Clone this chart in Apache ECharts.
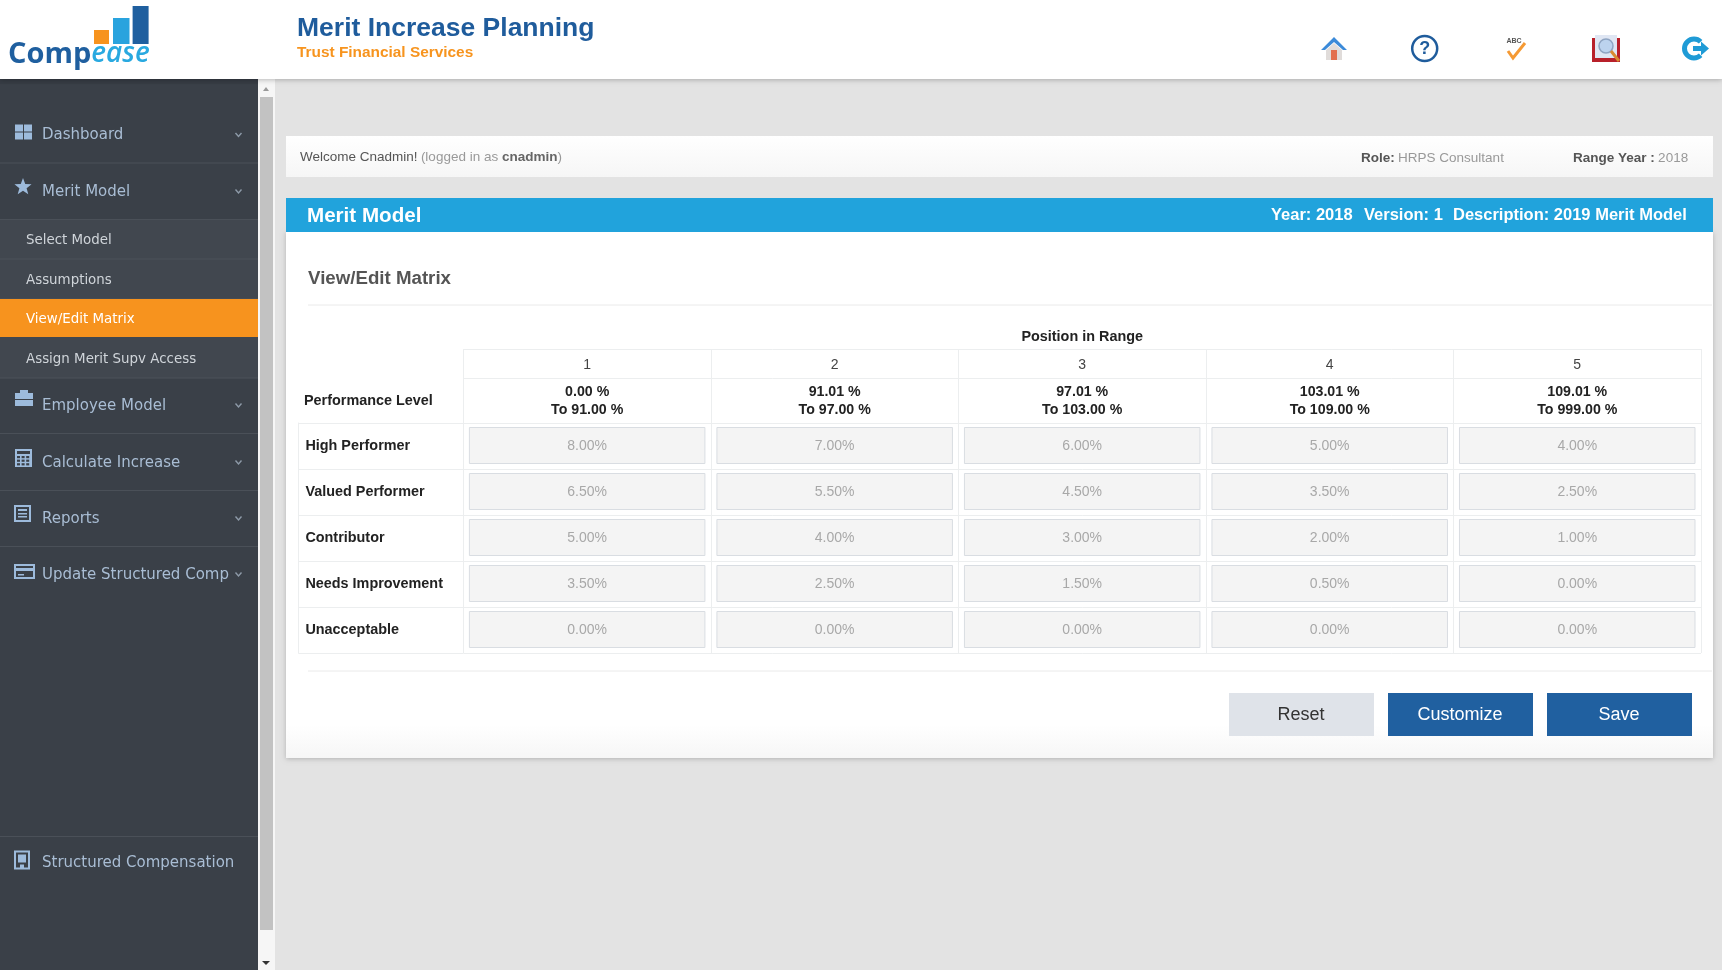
<!DOCTYPE html>
<html>
<head>
<meta charset="utf-8">
<style>html,body{margin:0;padding:0;background:#e3e3e3}#main{width:1722px;height:970px}</style>
<script src="https://cdn.jsdelivr.net/npm/echarts@6/dist/echarts.min.js"></script>
</head>
<body>
<div id="main"></div>
<script>
// table data
const positionLabels = ['1', '2', '3', '4', '5'];
const rangeLabels = ['0.00 %\nTo 91.00 %', '91.01 %\nTo 97.00 %', '97.01 %\nTo 103.00 %', '103.01 %\nTo 109.00 %', '109.01 %\nTo 999.00 %'];
const performanceLevels = ['High Performer', 'Valued Performer', 'Contributor', 'Needs Improvement', 'Unacceptable'];
const highPerformer = [8.0, 7.0, 6.0, 5.0, 4.0];
const valuedPerformer = [6.5, 5.5, 4.5, 3.5, 2.5];
const contributor = [5.0, 4.0, 3.0, 2.0, 1.0];
const needsImprovement = [3.5, 2.5, 1.5, 0.5, 0.0];
const unacceptable = [0.0, 0.0, 0.0, 0.0, 0.0];

// side menu
const menuTop = ['Dashboard', 'Merit Model'];
const menuSub = ['Select Model', 'Assumptions', 'View/Edit Matrix', 'Assign Merit Supv Access'];
const menuBottom = ['Employee Model', 'Calculate Increase', 'Reports', 'Update Structured Comp'];

const ARIAL = '"Liberation Sans", Arial, sans-serif';
const VERDANA = '"DejaVu Sans", Verdana, sans-serif';
const BORDER = '#eceeef';
const MENU_TEXT = '#a9bdd4';
const ICON = '#9dbbdc';

const matrix = [highPerformer, valuedPerformer, contributor, needsImprovement, unacceptable];
const cellData = [];
matrix.forEach(function (row, r) {
  row.forEach(function (v, c) {
    cellData.push([c, r, v]);
  });
});

// helpers for the page chrome
function box(x, y, w, h, fill, extra) {
  return Object.assign({ type: 'rect', shape: { x: x, y: y, width: w, height: h }, style: Object.assign({ fill: fill }, extra) });
}
function label(x, y, text, font, fill, align) {
  return { type: 'text', z: 1, style: { x: x, y: y, text: text, font: font, fill: fill, align: align || 'left', verticalAlign: 'middle' } };
}
function hline(x1, x2, y, color) {
  return { type: 'line', shape: { x1: x1, y1: y, x2: x2, y2: y }, style: { stroke: color, lineWidth: 1 } };
}
function poly(points, fill) {
  return { type: 'polygon', shape: { points: points }, style: { fill: fill } };
}
function path(points, stroke, width) {
  return { type: 'polyline', shape: { points: points }, style: { stroke: stroke, lineWidth: width, fill: 'none' } };
}
function vgrad(from, to) {
  return new echarts.graphic.LinearGradient(0, 0, 0, 1, [{ offset: 0, color: from }, { offset: 1, color: to }]);
}

function starPoints(cx, cy, r) {
  const pts = [];
  for (let i = 0; i < 10; i++) {
    const a = -Math.PI / 2 + i * Math.PI / 5;
    const d = i % 2 ? r * 0.42 : r;
    pts.push([cx + Math.cos(a) * d, cy + Math.sin(a) * d]);
  }
  return pts;
}

// sidebar icons
const icons = {
  Dashboard: function (y) {
    return [box(15, y - 9, 8, 7, ICON), box(24, y - 9, 8, 7, ICON), box(15, y - 1, 8, 7, ICON), box(24, y - 1, 8, 7, ICON)];
  },
  'Merit Model': function (y) {
    return [poly(starPoints(23, y - 3, 9), ICON)];
  },
  'Employee Model': function (y) {
    return [box(15, y - 11, 18, 13, ICON), box(20, y - 14, 8, 3, ICON), box(15, y - 5, 18, 1, '#3a4048')];
  },
  'Calculate Increase': function (y) {
    const parts = [box(15, y - 12, 17, 18, ICON), box(17, y - 10, 13, 3, '#3a4048')];
    for (let i = 0; i < 3; i++) {
      for (let j = 0; j < 3; j++) {
        parts.push(box(17 + i * 4.6, y - 5 + j * 3.6, 3, 2.2, '#3a4048'));
      }
    }
    return parts;
  },
  Reports: function (y) {
    return [
      box(15, y - 11, 15, 15, 'none', { stroke: ICON, lineWidth: 2 }),
      box(18, y - 8, 9, 2, ICON), box(18, y - 4, 9, 1.5, ICON), box(18, y - 1, 9, 1.5, ICON)
    ];
  },
  'Update Structured Comp': function (y) {
    return [
      box(15, y - 8, 19, 13, 'none', { stroke: ICON, lineWidth: 2 }),
      box(15, y - 5, 19, 3, ICON), box(18, y + 1, 6, 1.5, ICON)
    ];
  },
  'Structured Compensation': function (y) {
    return [
      box(15, y - 10, 14, 17, 'none', { stroke: ICON, lineWidth: 2 }),
      box(18, y - 7, 8, 8, ICON), box(20, y + 3, 4, 4, ICON)
    ];
  }
};

function chevron(y) {
  return path([[235.5, y - 1.5], [238.5, y + 2], [241.5, y - 1.5]], '#8d9aa8', 1.4);
}

function menuRow(name, y, divider) {
  const parts = (icons[name] ? icons[name](y) : []).concat([label(42, y + 2, name, '15px ' + VERDANA, MENU_TEXT)]);
  if (divider) parts.push(hline(0, 258, y + 29.5, '#4a5058'));
  return parts;
}

function buildSidebar() {
  let parts = [box(0, 79, 258, 891, '#3a4048'), box(0, 79, 258, 5, '#363c44')];
  [133.5, 190].forEach(function (y, i) {
    parts = parts.concat(menuRow(menuTop[i], y, true), [chevron(y + 1)]);
  });
  parts.push(box(0, 220, 258, 158, '#41474f'));
  [239, 279, 318, 358].forEach(function (y, i) {
    const active = i === 2;
    if (active) parts.push(box(0, 299, 258, 38, '#f7931e'));
    else parts.push(hline(0, 258, y + 20, '#4c525a'));
    parts.push(label(26, y + 1.5, menuSub[i], '13.4px ' + VERDANA, active ? '#ffffff' : '#d0d5da'));
  });
  [404, 461, 517, 573].forEach(function (y, i) {
    parts = parts.concat(menuRow(menuBottom[i], y, i < 3), [chevron(y + 1)]);
  });
  parts.push(hline(0, 258, 836.5, '#4a5058'));
  parts = parts.concat(menuRow('Structured Compensation', 861.5, false));
  // scrollbar
  parts.push(box(258, 79, 17, 891, '#f6f6f6'));
  parts.push(box(260, 97, 13, 833, '#c2c2c2'));
  parts.push(poly([[263, 91], [266, 87], [269, 91]], '#9a9a9a'));
  parts.push(poly([[262, 961], [266, 965], [270, 961]], '#333333'));
  return parts;
}

function buildHeader() {
  return [
    box(0, 0, 1722, 79, '#ffffff', { shadowBlur: 5, shadowColor: 'rgba(0,0,0,0.25)', shadowOffsetY: 1 }),
    box(94, 30, 15, 14, '#f7931e'), box(113, 18, 16.5, 26, '#29a3de'), box(132.6, 6, 16, 38, '#1f5f9f'),
    {
      type: 'text', z: 1,
      style: {
        x: 8, y: 54.5, verticalAlign: 'middle', text: '{a|Comp}{b|ease}',
        rich: {
          a: { font: '700 29px "Open Sans", sans-serif', fill: '#1f5f9f' },
          b: { font: 'italic 600 28px "Open Sans", sans-serif', fill: '#29a9e0' }
        }
      }
    },
    label(297, 28.5, 'Merit Increase Planning', 'bold 26.5px ' + ARIAL, '#1f5c9c'),
    label(297, 53, 'Trust Financial Services', 'bold 15.4px ' + ARIAL, '#f7941e'),
    // home
    poly([[1321, 50], [1334, 37], [1347, 50], [1343, 50], [1334, 42], [1325, 50]], '#3b8ad9'),
    poly([[1326, 50], [1334, 43], [1342, 50], [1342, 60], [1326, 60]], '#e0dcda'),
    box(1331, 50, 6, 10, '#e2704f'),
    // help
    { type: 'circle', shape: { cx: 1424.7, cy: 48.5, r: 12.5 }, style: { fill: 'none', stroke: '#1f5c9c', lineWidth: 2.5 } },
    label(1424.7, 49, '?', 'bold 18px ' + ARIAL, '#1f5c9c', 'center'),
    // spell check
    label(1514, 41, 'ABC', 'bold 7px ' + ARIAL, '#555555', 'center'),
    path([[1508, 51], [1513, 58], [1525, 43]], '#f59a34', 3),
    // book
    box(1592, 38, 28, 24, '#b8202a'),
    box(1595, 35, 22, 23, '#dfe6f3'),
    { type: 'circle', shape: { cx: 1606, cy: 46, r: 7 }, style: { fill: '#bcd3ee', stroke: '#8ea4c2', lineWidth: 1.5 } },
    path([[1611, 51], [1619, 61]], '#d98a2f', 3),
    // logout
    { type: 'arc', shape: { cx: 1694, cy: 48.5, r: 9.5, startAngle: 0.8, endAngle: -0.8, clockwise: true }, style: { fill: 'none', stroke: '#1f9bd6', lineWidth: 5 } },
    poly([[1693, 46], [1701, 46], [1701, 41.5], [1709, 48.5], [1701, 55.5], [1701, 51], [1693, 51]], '#1f9bd6')
  ];
}

function buildContent() {
  return [
    // welcome strip
    box(286, 136, 1427, 41, vgrad('#ffffff', '#f6f6f6')),
    {
      type: 'text', z: 1,
      style: {
        x: 300, y: 157, verticalAlign: 'middle', text: '{a|Welcome Cnadmin!} {b|(logged in as }{c|cnadmin}{b|)}',
        rich: {
          a: { font: '13.5px ' + ARIAL, fill: '#555555' },
          b: { font: '13.5px ' + ARIAL, fill: '#999999' },
          c: { font: 'bold 13.5px ' + ARIAL, fill: '#666666' }
        }
      }
    },
    {
      type: 'text', z: 1,
      style: {
        x: 1361, y: 158, verticalAlign: 'middle', text: '{c|Role:} {b|HRPS Consultant}',
        rich: { b: { font: '13.5px ' + ARIAL, fill: '#999999' }, c: { font: 'bold 13.5px ' + ARIAL, fill: '#555555' } }
      }
    },
    {
      type: 'text', z: 1,
      style: {
        x: 1573, y: 158, verticalAlign: 'middle', text: '{c|Range Year :} {b|2018}',
        rich: { b: { font: '13.5px ' + ARIAL, fill: '#999999' }, c: { font: 'bold 13.5px ' + ARIAL, fill: '#555555' } }
      }
    },
    // main panel
    box(286, 232, 1427, 526, '#ffffff', { shadowBlur: 5, shadowColor: 'rgba(0,0,0,0.22)', shadowOffsetY: 1 }),
    box(286, 725, 1427, 33, vgrad('#ffffff', '#f6f6f6')),
    box(286, 198, 1427, 34, '#21a3dc'),
    label(307, 216, 'Merit Model', 'bold 20.6px ' + ARIAL, '#ffffff'),
    label(1271, 215.5, 'Year: 2018', 'bold 16.5px ' + ARIAL, '#ffffff'),
    label(1364, 215.5, 'Version: 1', 'bold 16.5px ' + ARIAL, '#ffffff'),
    label(1453, 215.5, 'Description: 2019 Merit Model', 'bold 16.5px ' + ARIAL, '#ffffff'),
    label(308, 279, 'View/Edit Matrix', 'bold 18.7px ' + ARIAL, '#555555'),
    hline(308, 1712, 305, '#eaeaea'),
    label(304, 401, 'Performance Level', 'bold 14.4px ' + ARIAL, '#222222'),
    hline(308, 1712, 671, '#eaeaea'),
    // buttons
    box(1229, 693, 145, 43, '#dfe3e9'),
    label(1301, 715, 'Reset', '18px ' + ARIAL, '#333333', 'center'),
    box(1388, 693, 145, 43, '#2060a0'),
    label(1460, 715, 'Customize', '18px ' + ARIAL, '#ffffff', 'center'),
    box(1547, 693, 145, 43, '#2060a0'),
    label(1619, 715, 'Save', '18px ' + ARIAL, '#ffffff', 'center')
  ];
}

const borderLine = { show: true, lineStyle: { color: BORDER, width: 1 } };

const option = {
  animation: false,
  backgroundColor: '#e3e3e3',
  textStyle: { fontFamily: ARIAL },
  graphic: { elements: [].concat(buildContent(), buildSidebar(), buildHeader()) },
  grid: { left: 463.4, top: 423, width: 1237.6, height: 230, show: false },
  xAxis: [
    {
      type: 'category', position: 'top', data: rangeLabels, z: 5,
      axisLine: borderLine,
      axisTick: { show: true, length: 74, lineStyle: { color: BORDER } },
      splitLine: borderLine,
      axisLabel: { interval: 0, margin: 4, fontWeight: 'bold', fontSize: 14.2, color: '#222222', lineHeight: 18 }
    },
    {
      type: 'category', position: 'top', offset: 45, data: positionLabels, z: 5,
      axisLine: borderLine,
      axisTick: { show: false },
      axisLabel: { interval: 0, margin: 6, fontSize: 14, color: '#444444' }
    },
    {
      type: 'category', position: 'top', offset: 74, data: positionLabels, z: 5,
      name: 'Position in Range', nameLocation: 'middle', nameGap: 5,
      nameTextStyle: { fontWeight: 'bold', fontSize: 14.4, color: '#222222' },
      axisLine: borderLine,
      axisTick: { show: false },
      axisLabel: { show: false }
    }
  ],
  yAxis: [
    {
      type: 'category', inverse: true, data: performanceLevels, z: 5,
      axisLine: { show: false },
      axisTick: { show: true, length: 165, lineStyle: { color: BORDER } },
      splitLine: borderLine,
      axisLabel: { interval: 0, align: 'left', margin: 158, padding: [7, 0, 0, 0], fontWeight: 'bold', fontSize: 14.4, color: '#222222' }
    },
    {
      type: 'category', position: 'left', offset: 165, inverse: true, data: performanceLevels, z: 5,
      axisLine: borderLine,
      axisTick: { show: false },
      axisLabel: { show: false }
    }
  ],
  series: [
    {
      type: 'custom',
      z: 6,
      xAxisIndex: 0,
      yAxisIndex: 0,
      data: cellData,
      encode: { x: 0, y: 1 },
      renderItem: function (params, api) {
        const center = api.coord([api.value(0), api.value(1)]);
        const size = api.size([1, 1]);
        return {
          type: 'group',
          children: [
            {
              type: 'rect',
              shape: { x: center[0] - size[0] / 2 + 6, y: center[1] - size[1] / 2 + 4.5, width: size[0] - 12, height: size[1] - 10 },
              style: { fill: '#f4f4f4', stroke: '#d9dde2', lineWidth: 1 }
            },
            {
              type: 'text',
              style: {
                x: center[0], y: center[1], text: api.value(2).toFixed(2) + '%',
                font: '14px ' + ARIAL, fill: '#a8a8a8', align: 'center', verticalAlign: 'middle'
              }
            }
          ]
        };
      }
    }
  ]
};

const chart = echarts.init(document.getElementById('main'), null, { renderer: 'canvas' });
chart.setOption(option);
</script>
</body>
</html>
